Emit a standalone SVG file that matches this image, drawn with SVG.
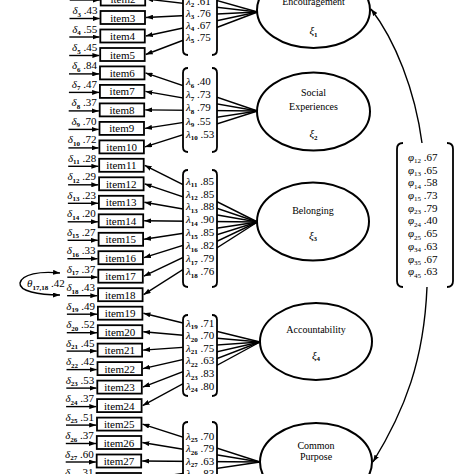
<svg xmlns="http://www.w3.org/2000/svg" width="474" height="474" viewBox="0 0 474 474">
<style>
.t{font-family:"Liberation Serif","Times New Roman",serif;font-size:11px;fill:#000}
.lb{font-size:10px}
.g{font-style:italic}
.sb{font-size:7px;font-weight:bold}
.sn{font-size:7px}
.bx{fill:#fff;stroke:#000;stroke-width:1.8}
.ln{stroke:#000;stroke-width:1.4;fill:none}
.br{fill:none;stroke:#000;stroke-width:1.8}
.el{fill:#fff;stroke:#000;stroke-width:2}
.wh{fill:#fff;stroke:none}
</style>
<defs>
<marker id="ah" viewBox="0 0 7 5" refX="7" refY="2.5" markerWidth="7" markerHeight="5" markerUnits="userSpaceOnUse" orient="auto-start-reverse"><path d="M0,0 L7,2.5 L0,5 z" fill="#000"/></marker>
</defs>
<rect width="474" height="474" fill="#fff"/>

<g id="factors">
<g id="f1"><ellipse class="el" cx="313.5" cy="10" rx="56.5" ry="38"/><text class="t lb" x="313.5" y="5" text-anchor="middle">Encouragement</text><text class="t" x="313.5" y="34" text-anchor="middle"><tspan class="g">ξ</tspan><tspan class="sb" dy="2.5">1</tspan></text></g>
<g id="f2"><ellipse class="el" cx="313.5" cy="111.5" rx="56.5" ry="39"/><text class="t lb" x="313.5" y="96" text-anchor="middle">Social</text><text class="t lb" x="313.5" y="109.5" text-anchor="middle">Experiences</text><text class="t" x="313.5" y="137" text-anchor="middle"><tspan class="g">ξ</tspan><tspan class="sb" dy="2.5">2</tspan></text></g>
<g id="f3"><ellipse class="el" cx="313" cy="221.5" rx="56" ry="39"/><text class="t lb" x="313" y="213.5" text-anchor="middle">Belonging</text><text class="t" x="313" y="238.5" text-anchor="middle"><tspan class="g">ξ</tspan><tspan class="sb" dy="2.5">3</tspan></text></g>
<g id="f4"><ellipse class="el" cx="316" cy="341.5" rx="56" ry="38.5"/><text class="t lb" x="316" y="332.5" text-anchor="middle">Accountability</text><text class="t" x="316" y="358.5" text-anchor="middle"><tspan class="g">ξ</tspan><tspan class="sb" dy="2.5">4</tspan></text></g>
<g id="f5"><ellipse class="el" cx="316" cy="462" rx="56" ry="39"/><text class="t lb" x="316" y="448.5" text-anchor="middle">Common</text><text class="t lb" x="316" y="460" text-anchor="middle">Purpose</text></g>
</g>

<g id="connectors" marker-end="url(#ah)">
<g class="ln">
<line x1="257.5" y1="12" x2="146.3" y2="-19.5"/>
<line x1="257.5" y1="12" x2="146.2" y2="-1"/>
<line x1="257.5" y1="12" x2="146" y2="17.5"/>
<line x1="257.5" y1="12" x2="145.8" y2="36"/>
<line x1="257.5" y1="12" x2="145.7" y2="54.5"/>
<line x1="257.5" y1="111" x2="145.5" y2="72.9"/>
<line x1="257.5" y1="111" x2="145.4" y2="91.4"/>
<line x1="257.5" y1="111" x2="145.2" y2="109.9"/>
<line x1="257.5" y1="111" x2="145" y2="128.4"/>
<line x1="257.5" y1="111" x2="144.9" y2="146.9"/>
<line x1="257.5" y1="222" x2="144.7" y2="165.3"/>
<line x1="257.5" y1="222" x2="144.6" y2="183.8"/>
<line x1="257.5" y1="222" x2="144.4" y2="202.3"/>
<line x1="257.5" y1="222" x2="144.2" y2="220.8"/>
<line x1="257.5" y1="222" x2="144.1" y2="239.3"/>
<line x1="257.5" y1="222" x2="143.9" y2="257.7"/>
<line x1="257.5" y1="222" x2="143.8" y2="276.2"/>
<line x1="257.5" y1="222" x2="143.6" y2="294.7"/>
<line x1="260" y1="342" x2="143.4" y2="313.2"/>
<line x1="260" y1="342" x2="143.3" y2="331.7"/>
<line x1="260" y1="342" x2="143.1" y2="350.1"/>
<line x1="260" y1="342" x2="143" y2="368.6"/>
<line x1="260" y1="342" x2="142.8" y2="387.1"/>
<line x1="260" y1="342" x2="142.6" y2="405.6"/>
<line x1="260" y1="462" x2="142.5" y2="424.1"/>
<line x1="260" y1="462" x2="142.3" y2="442.5"/>
<line x1="260" y1="462" x2="142.2" y2="461"/>
<line x1="260" y1="462" x2="142" y2="479.5"/>
<line x1="69.7" y1="0" x2="99.9" y2="0"/>
<line x1="69.5" y1="18.5" x2="99.7" y2="18.5"/>
<line x1="69.3" y1="37" x2="99.5" y2="37"/>
<line x1="69.2" y1="55.5" x2="99.4" y2="55.5"/>
<line x1="69" y1="73.9" x2="99.2" y2="73.9"/>
<line x1="68.9" y1="92.4" x2="99.1" y2="92.4"/>
<line x1="68.7" y1="110.9" x2="98.9" y2="110.9"/>
<line x1="68.5" y1="129.4" x2="98.7" y2="129.4"/>
<line x1="68.4" y1="147.9" x2="98.6" y2="147.9"/>
<line x1="68.2" y1="166.3" x2="98.4" y2="166.3"/>
<line x1="68.1" y1="184.8" x2="98.3" y2="184.8"/>
<line x1="67.9" y1="203.3" x2="98.1" y2="203.3"/>
<line x1="67.7" y1="221.8" x2="97.9" y2="221.8"/>
<line x1="67.6" y1="240.3" x2="97.8" y2="240.3"/>
<line x1="67.4" y1="258.7" x2="97.6" y2="258.7"/>
<line x1="67.3" y1="277.2" x2="97.5" y2="277.2"/>
<line x1="67.1" y1="295.7" x2="97.3" y2="295.7"/>
<line x1="66.9" y1="314.2" x2="97.1" y2="314.2"/>
<line x1="66.8" y1="332.7" x2="97" y2="332.7"/>
<line x1="66.6" y1="351.1" x2="96.8" y2="351.1"/>
<line x1="66.5" y1="369.6" x2="96.7" y2="369.6"/>
<line x1="66.3" y1="388.1" x2="96.5" y2="388.1"/>
<line x1="66.1" y1="406.6" x2="96.3" y2="406.6"/>
<line x1="66" y1="425.1" x2="96.2" y2="425.1"/>
<line x1="65.8" y1="443.5" x2="96" y2="443.5"/>
<line x1="65.7" y1="462" x2="95.9" y2="462"/>
<line x1="65.5" y1="480.5" x2="95.7" y2="480.5"/>
<path d="M422,143 C415,90 395,40 371,9"/>
<path d="M427,287 C424,360 405,410 373,462"/>
<path d="M60,273 C40,271 22,274 20,283 C19,291 38,295 60,295" marker-start="url(#ah)"/>
</g>
<text class="t" x="27" y="287" marker-end="none"><tspan class="g">θ</tspan><tspan class="sb" dy="2.5">17,18</tspan><tspan dy="-2.5"> .42</tspan></text>
</g>

<g id="loadings1">
<rect class="wh" x="183" y="-26" width="34" height="81"/>
<path class="br" d="M183,-26 V50 Q183,55 188,55 M217,-26 V50 Q217,55 212,55"/>
<text class="t" x="186" y="4.5"><tspan class="g">λ</tspan><tspan class="sb" dy="2.5">2</tspan><tspan dy="-2.5"> .61</tspan></text>
<text class="t" x="186" y="16.5"><tspan class="g">λ</tspan><tspan class="sb" dy="2.5">3</tspan><tspan dy="-2.5"> .76</tspan></text>
<text class="t" x="186" y="28.5"><tspan class="g">λ</tspan><tspan class="sb" dy="2.5">4</tspan><tspan dy="-2.5"> .67</tspan></text>
<text class="t" x="186" y="40.5"><tspan class="g">λ</tspan><tspan class="sb" dy="2.5">5</tspan><tspan dy="-2.5"> .75</tspan></text>
</g>
<g id="loadings2">
<rect class="wh" x="183" y="68" width="34" height="84"/>
<path class="br" d="M188,68 Q183,68 183,73 V147 Q183,152 188,152 M212,68 Q217,68 217,73 V147 Q217,152 212,152"/>
<text class="t" x="186" y="85.2"><tspan class="g">λ</tspan><tspan class="sb" dy="2.5">6</tspan><tspan dy="-2.5"> .40</tspan></text>
<text class="t" x="186" y="98.3"><tspan class="g">λ</tspan><tspan class="sb" dy="2.5">7</tspan><tspan dy="-2.5"> .73</tspan></text>
<text class="t" x="186" y="111.4"><tspan class="g">λ</tspan><tspan class="sb" dy="2.5">8</tspan><tspan dy="-2.5"> .79</tspan></text>
<text class="t" x="186" y="124.5"><tspan class="g">λ</tspan><tspan class="sb" dy="2.5">9</tspan><tspan dy="-2.5"> .55</tspan></text>
<text class="t" x="186" y="137.6"><tspan class="g">λ</tspan><tspan class="sb" dy="2.5">10</tspan><tspan dy="-2.5"> .53</tspan></text>
</g>
<g id="loadings3">
<rect class="wh" x="183" y="170" width="34" height="117"/>
<path class="br" d="M188,170 Q183,170 183,175 V282 Q183,287 188,287 M212,170 Q217,170 217,175 V282 Q217,287 212,287"/>
<text class="t" x="186" y="184.5"><tspan class="g">λ</tspan><tspan class="sb" dy="2.5">11</tspan><tspan dy="-2.5"> .85</tspan></text>
<text class="t" x="186" y="197.5"><tspan class="g">λ</tspan><tspan class="sb" dy="2.5">12</tspan><tspan dy="-2.5"> .85</tspan></text>
<text class="t" x="186" y="210.4"><tspan class="g">λ</tspan><tspan class="sb" dy="2.5">13</tspan><tspan dy="-2.5"> .88</tspan></text>
<text class="t" x="186" y="223.4"><tspan class="g">λ</tspan><tspan class="sb" dy="2.5">14</tspan><tspan dy="-2.5"> .90</tspan></text>
<text class="t" x="186" y="236.3"><tspan class="g">λ</tspan><tspan class="sb" dy="2.5">15</tspan><tspan dy="-2.5"> .85</tspan></text>
<text class="t" x="186" y="249.3"><tspan class="g">λ</tspan><tspan class="sb" dy="2.5">16</tspan><tspan dy="-2.5"> .82</tspan></text>
<text class="t" x="186" y="262.3"><tspan class="g">λ</tspan><tspan class="sb" dy="2.5">17</tspan><tspan dy="-2.5"> .79</tspan></text>
<text class="t" x="186" y="275.2"><tspan class="g">λ</tspan><tspan class="sb" dy="2.5">18</tspan><tspan dy="-2.5"> .76</tspan></text>
</g>
<g id="loadings4">
<rect class="wh" x="183" y="315" width="34" height="81"/>
<path class="br" d="M188,315 Q183,315 183,320 V391 Q183,396 188,396 M212,315 Q217,315 217,320 V391 Q217,396 212,396"/>
<text class="t" x="186" y="326.8"><tspan class="g">λ</tspan><tspan class="sb" dy="2.5">19</tspan><tspan dy="-2.5"> .71</tspan></text>
<text class="t" x="186" y="339.3"><tspan class="g">λ</tspan><tspan class="sb" dy="2.5">20</tspan><tspan dy="-2.5"> .70</tspan></text>
<text class="t" x="186" y="351.9"><tspan class="g">λ</tspan><tspan class="sb" dy="2.5">21</tspan><tspan dy="-2.5"> .75</tspan></text>
<text class="t" x="186" y="364.4"><tspan class="g">λ</tspan><tspan class="sb" dy="2.5">22</tspan><tspan dy="-2.5"> .63</tspan></text>
<text class="t" x="186" y="377"><tspan class="g">λ</tspan><tspan class="sb" dy="2.5">23</tspan><tspan dy="-2.5"> .83</tspan></text>
<text class="t" x="186" y="389.5"><tspan class="g">λ</tspan><tspan class="sb" dy="2.5">24</tspan><tspan dy="-2.5"> .80</tspan></text>
</g>
<g id="loadings5">
<rect class="wh" x="183" y="422" width="34" height="90"/>
<path class="br" d="M188,422 Q183,422 183,427 V512 M212,422 Q217,422 217,427 V512"/>
<text class="t" x="186" y="439.5"><tspan class="g">λ</tspan><tspan class="sb" dy="2.5">25</tspan><tspan dy="-2.5"> .70</tspan></text>
<text class="t" x="186" y="452"><tspan class="g">λ</tspan><tspan class="sb" dy="2.5">26</tspan><tspan dy="-2.5"> .79</tspan></text>
<text class="t" x="186" y="464.5"><tspan class="g">λ</tspan><tspan class="sb" dy="2.5">27</tspan><tspan dy="-2.5"> .63</tspan></text>
<text class="t" x="186" y="477"><tspan class="g">λ</tspan><tspan class="sb" dy="2.5">28</tspan><tspan dy="-2.5"> .83</tspan></text>
</g>

<g id="phi">
<path class="br" d="M403,143 Q397,143 397,149 V281 Q397,287 403,287 M447,143 Q453,143 453,149 V281 Q453,287 447,287"/>
<text class="t" x="408" y="160.8"><tspan class="g">φ</tspan><tspan class="sn" dy="2.5">12</tspan><tspan dy="-2.5"> .67</tspan></text>
<text class="t" x="408" y="173.5"><tspan class="g">φ</tspan><tspan class="sn" dy="2.5">13</tspan><tspan dy="-2.5"> .65</tspan></text>
<text class="t" x="408" y="186.2"><tspan class="g">φ</tspan><tspan class="sn" dy="2.5">14</tspan><tspan dy="-2.5"> .58</tspan></text>
<text class="t" x="408" y="198.9"><tspan class="g">φ</tspan><tspan class="sn" dy="2.5">15</tspan><tspan dy="-2.5"> .73</tspan></text>
<text class="t" x="408" y="211.6"><tspan class="g">φ</tspan><tspan class="sn" dy="2.5">23</tspan><tspan dy="-2.5"> .79</tspan></text>
<text class="t" x="408" y="224.4"><tspan class="g">φ</tspan><tspan class="sn" dy="2.5">24</tspan><tspan dy="-2.5"> .40</tspan></text>
<text class="t" x="408" y="237.1"><tspan class="g">φ</tspan><tspan class="sn" dy="2.5">25</tspan><tspan dy="-2.5"> .65</tspan></text>
<text class="t" x="408" y="249.8"><tspan class="g">φ</tspan><tspan class="sn" dy="2.5">34</tspan><tspan dy="-2.5"> .63</tspan></text>
<text class="t" x="408" y="262.5"><tspan class="g">φ</tspan><tspan class="sn" dy="2.5">35</tspan><tspan dy="-2.5"> .67</tspan></text>
<text class="t" x="408" y="275.2"><tspan class="g">φ</tspan><tspan class="sn" dy="2.5">45</tspan><tspan dy="-2.5"> .63</tspan></text>
</g>

<g id="items">
<g id="item2"><rect class="bx" x="100.7" y="-7.5" width="44.5" height="13"/><text class="t" x="122.95" y="3" text-anchor="middle">item2</text></g>
<g id="item3"><rect class="bx" x="100.5" y="11" width="44.5" height="13"/><text class="t" x="122.75" y="21.5" text-anchor="middle">item3</text><text class="t" x="97.5" y="14" text-anchor="end"><tspan class="g">δ</tspan><tspan class="sb" dy="2.5">3</tspan><tspan dy="-2.5"> .43</tspan></text></g>
<g id="item4"><rect class="bx" x="100.3" y="29.5" width="44.5" height="13"/><text class="t" x="122.55" y="40" text-anchor="middle">item4</text><text class="t" x="97.3" y="32.5" text-anchor="end"><tspan class="g">δ</tspan><tspan class="sb" dy="2.5">4</tspan><tspan dy="-2.5"> .55</tspan></text></g>
<g id="item5"><rect class="bx" x="100.2" y="48" width="44.5" height="13"/><text class="t" x="122.45" y="58.5" text-anchor="middle">item5</text><text class="t" x="97.2" y="51" text-anchor="end"><tspan class="g">δ</tspan><tspan class="sb" dy="2.5">5</tspan><tspan dy="-2.5"> .45</tspan></text></g>
<g id="item6"><rect class="bx" x="100" y="66.4" width="44.5" height="13"/><text class="t" x="122.25" y="76.9" text-anchor="middle">item6</text><text class="t" x="97" y="69.4" text-anchor="end"><tspan class="g">δ</tspan><tspan class="sb" dy="2.5">6</tspan><tspan dy="-2.5"> .84</tspan></text></g>
<g id="item7"><rect class="bx" x="99.9" y="84.9" width="44.5" height="13"/><text class="t" x="122.15" y="95.4" text-anchor="middle">item7</text><text class="t" x="96.9" y="87.9" text-anchor="end"><tspan class="g">δ</tspan><tspan class="sb" dy="2.5">7</tspan><tspan dy="-2.5"> .47</tspan></text></g>
<g id="item8"><rect class="bx" x="99.7" y="103.4" width="44.5" height="13"/><text class="t" x="121.95" y="113.9" text-anchor="middle">item8</text><text class="t" x="96.7" y="106.4" text-anchor="end"><tspan class="g">δ</tspan><tspan class="sb" dy="2.5">8</tspan><tspan dy="-2.5"> .37</tspan></text></g>
<g id="item9"><rect class="bx" x="99.5" y="121.9" width="44.5" height="13"/><text class="t" x="121.75" y="132.4" text-anchor="middle">item9</text><text class="t" x="96.5" y="124.9" text-anchor="end"><tspan class="g">δ</tspan><tspan class="sb" dy="2.5">9</tspan><tspan dy="-2.5"> .70</tspan></text></g>
<g id="item10"><rect class="bx" x="99.4" y="140.4" width="44.5" height="13"/><text class="t" x="121.65" y="150.9" text-anchor="middle">item10</text><text class="t" x="96.4" y="143.4" text-anchor="end"><tspan class="g">δ</tspan><tspan class="sb" dy="2.5">10</tspan><tspan dy="-2.5"> .72</tspan></text></g>
<g id="item11"><rect class="bx" x="99.2" y="158.8" width="44.5" height="13"/><text class="t" x="121.45" y="169.3" text-anchor="middle">item11</text><text class="t" x="96.2" y="161.8" text-anchor="end"><tspan class="g">δ</tspan><tspan class="sb" dy="2.5">11</tspan><tspan dy="-2.5"> .28</tspan></text></g>
<g id="item12"><rect class="bx" x="99.1" y="177.3" width="44.5" height="13"/><text class="t" x="121.35" y="187.8" text-anchor="middle">item12</text><text class="t" x="96.1" y="180.3" text-anchor="end"><tspan class="g">δ</tspan><tspan class="sb" dy="2.5">12</tspan><tspan dy="-2.5"> .29</tspan></text></g>
<g id="item13"><rect class="bx" x="98.9" y="195.8" width="44.5" height="13"/><text class="t" x="121.15" y="206.3" text-anchor="middle">item13</text><text class="t" x="95.9" y="198.8" text-anchor="end"><tspan class="g">δ</tspan><tspan class="sb" dy="2.5">13</tspan><tspan dy="-2.5"> .23</tspan></text></g>
<g id="item14"><rect class="bx" x="98.7" y="214.3" width="44.5" height="13"/><text class="t" x="120.95" y="224.8" text-anchor="middle">item14</text><text class="t" x="95.7" y="217.3" text-anchor="end"><tspan class="g">δ</tspan><tspan class="sb" dy="2.5">14</tspan><tspan dy="-2.5"> .20</tspan></text></g>
<g id="item15"><rect class="bx" x="98.6" y="232.8" width="44.5" height="13"/><text class="t" x="120.85" y="243.3" text-anchor="middle">item15</text><text class="t" x="95.6" y="235.8" text-anchor="end"><tspan class="g">δ</tspan><tspan class="sb" dy="2.5">15</tspan><tspan dy="-2.5"> .27</tspan></text></g>
<g id="item16"><rect class="bx" x="98.4" y="251.2" width="44.5" height="13"/><text class="t" x="120.65" y="261.7" text-anchor="middle">item16</text><text class="t" x="95.4" y="254.2" text-anchor="end"><tspan class="g">δ</tspan><tspan class="sb" dy="2.5">16</tspan><tspan dy="-2.5"> .33</tspan></text></g>
<g id="item17"><rect class="bx" x="98.3" y="269.7" width="44.5" height="13"/><text class="t" x="120.55" y="280.2" text-anchor="middle">item17</text><text class="t" x="95.3" y="272.7" text-anchor="end"><tspan class="g">δ</tspan><tspan class="sb" dy="2.5">17</tspan><tspan dy="-2.5"> .37</tspan></text></g>
<g id="item18"><rect class="bx" x="98.1" y="288.2" width="44.5" height="13"/><text class="t" x="120.35" y="298.7" text-anchor="middle">item18</text><text class="t" x="95.1" y="291.2" text-anchor="end"><tspan class="g">δ</tspan><tspan class="sb" dy="2.5">18</tspan><tspan dy="-2.5"> .43</tspan></text></g>
<g id="item19"><rect class="bx" x="97.9" y="306.7" width="44.5" height="13"/><text class="t" x="120.15" y="317.2" text-anchor="middle">item19</text><text class="t" x="94.9" y="309.7" text-anchor="end"><tspan class="g">δ</tspan><tspan class="sb" dy="2.5">19</tspan><tspan dy="-2.5"> .49</tspan></text></g>
<g id="item20"><rect class="bx" x="97.8" y="325.2" width="44.5" height="13"/><text class="t" x="120.05" y="335.7" text-anchor="middle">item20</text><text class="t" x="94.8" y="328.2" text-anchor="end"><tspan class="g">δ</tspan><tspan class="sb" dy="2.5">20</tspan><tspan dy="-2.5"> .52</tspan></text></g>
<g id="item21"><rect class="bx" x="97.6" y="343.6" width="44.5" height="13"/><text class="t" x="119.85" y="354.1" text-anchor="middle">item21</text><text class="t" x="94.6" y="346.6" text-anchor="end"><tspan class="g">δ</tspan><tspan class="sb" dy="2.5">21</tspan><tspan dy="-2.5"> .45</tspan></text></g>
<g id="item22"><rect class="bx" x="97.5" y="362.1" width="44.5" height="13"/><text class="t" x="119.75" y="372.6" text-anchor="middle">item22</text><text class="t" x="94.5" y="365.1" text-anchor="end"><tspan class="g">δ</tspan><tspan class="sb" dy="2.5">22</tspan><tspan dy="-2.5"> .42</tspan></text></g>
<g id="item23"><rect class="bx" x="97.3" y="380.6" width="44.5" height="13"/><text class="t" x="119.55" y="391.1" text-anchor="middle">item23</text><text class="t" x="94.3" y="383.6" text-anchor="end"><tspan class="g">δ</tspan><tspan class="sb" dy="2.5">23</tspan><tspan dy="-2.5"> .53</tspan></text></g>
<g id="item24"><rect class="bx" x="97.1" y="399.1" width="44.5" height="13"/><text class="t" x="119.35" y="409.6" text-anchor="middle">item24</text><text class="t" x="94.1" y="402.1" text-anchor="end"><tspan class="g">δ</tspan><tspan class="sb" dy="2.5">24</tspan><tspan dy="-2.5"> .37</tspan></text></g>
<g id="item25"><rect class="bx" x="97" y="417.6" width="44.5" height="13"/><text class="t" x="119.25" y="428.1" text-anchor="middle">item25</text><text class="t" x="94" y="420.6" text-anchor="end"><tspan class="g">δ</tspan><tspan class="sb" dy="2.5">25</tspan><tspan dy="-2.5"> .51</tspan></text></g>
<g id="item26"><rect class="bx" x="96.8" y="436" width="44.5" height="13"/><text class="t" x="119.05" y="446.5" text-anchor="middle">item26</text><text class="t" x="93.8" y="439" text-anchor="end"><tspan class="g">δ</tspan><tspan class="sb" dy="2.5">26</tspan><tspan dy="-2.5"> .37</tspan></text></g>
<g id="item27"><rect class="bx" x="96.7" y="454.5" width="44.5" height="13"/><text class="t" x="118.95" y="465" text-anchor="middle">item27</text><text class="t" x="93.7" y="457.5" text-anchor="end"><tspan class="g">δ</tspan><tspan class="sb" dy="2.5">27</tspan><tspan dy="-2.5"> .60</tspan></text></g>
<g id="item28"><rect class="bx" x="96.5" y="473" width="44.5" height="13"/><text class="t" x="118.75" y="483.5" text-anchor="middle">item28</text><text class="t" x="93.5" y="476" text-anchor="end"><tspan class="g">δ</tspan><tspan class="sb" dy="2.5">28</tspan><tspan dy="-2.5"> .31</tspan></text></g>
</g>
</svg>
